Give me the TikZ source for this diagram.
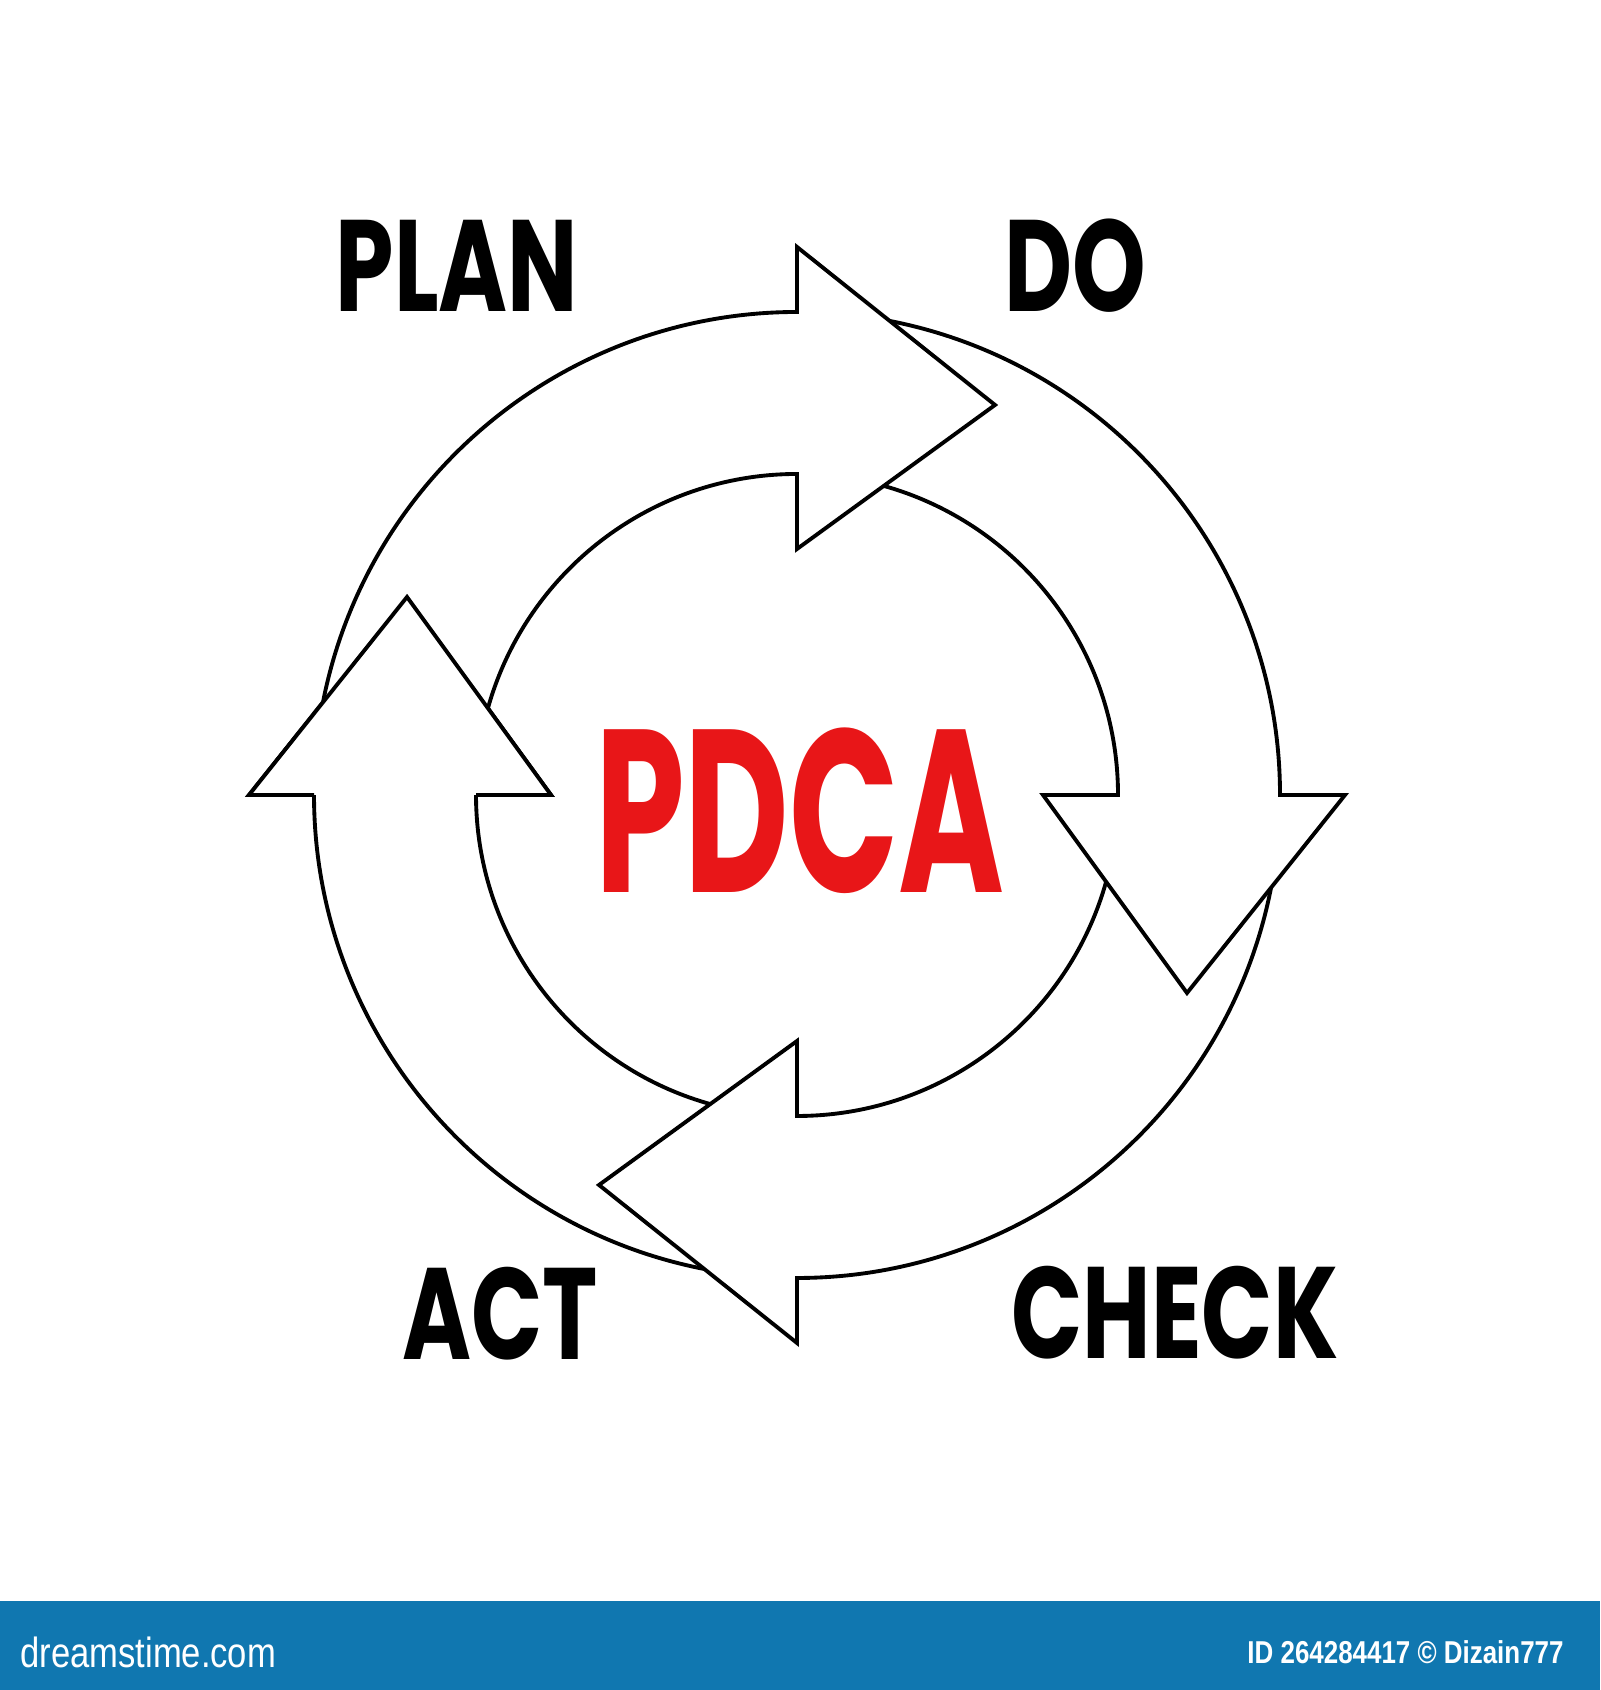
\documentclass[tikz,border=0pt]{standalone}
\usepackage{fontspec}
\usepackage{tikz}
\usetikzlibrary{calc}
\newfontfamily\handfont[FakeStretch=0.72]{Poppins}
\newfontfamily\bighandfont[FakeStretch=0.62]{Poppins}
\newfontfamily\barfont[FakeStretch=0.82]{Liberation Sans}
\definecolor{pdcared}{RGB}{232,22,24}
\definecolor{barblue}{RGB}{16,119,176}
\tikzset{
	arrowstyle/.style={draw=black,fill=white,line width=1.1pt,line join=miter},
	labelstyle/.style={font=\handfont\bfseries\fontsize{37}{40}\selectfont,text=black},
	centrestyle/.style={font=\bighandfont\bfseries\fontsize{66}{70}\selectfont,text=pdcared},
	barstyle/.style={font=\barfont\fontsize{12}{14}\selectfont,text=white}
}

\begin{document}
\begin{tikzpicture}
	\useasboundingbox (0,0) rectangle (16,16.9);
	\fill[barblue] (0,0) rectangle (16,0.89);
	\coordinate (c) at (7.97,8.95);
	\begin{scope}[shift={(c)}]
	\foreach \h in {180,-90,0,90}
		\draw[arrowstyle] (\h+82:4.83) arc[start angle=\h+82,end angle=\h,radius=4.83]
			-- (\h:5.48) -- ($(\h:3.9)+(\h-90:1.98)$) -- (\h:2.46) -- (\h:3.21)
			arc[start angle=\h,end angle=\h+82,radius=3.21] -- cycle;
	% left head again, over the tail of the top arrow
	\fill[white] (180:5.48) -- ($(180:3.9)+(90:1.98)$) -- (180:2.46) -- cycle;
	\draw[arrowstyle,fill=none] (180:4.83) -- (180:5.48) -- ($(180:3.9)+(90:1.98)$) -- (180:2.46) -- (180:3.21);
	\end{scope}
	\node[labelstyle] (plan) at (4.57,14.24) {PLAN};
	\node[labelstyle] (do) at (10.75,14.24) {DO};
	\node[labelstyle] (act) at (5.00,3.76) {ACT};
	\node[labelstyle] (check) at (11.75,3.77) {CHECK};
	\node[centrestyle] (pdca) at (8.0,8.79) {PDCA};
	\node[barstyle,anchor=west] (site) at (0.08,0.38) {dreamstime.com};
	\node[barstyle,font=\barfont\bfseries\fontsize{9}{11}\selectfont,anchor=east] (id) at (15.76,0.38) {ID 264284417 © Dizain777};
\end{tikzpicture}
\end{document}
